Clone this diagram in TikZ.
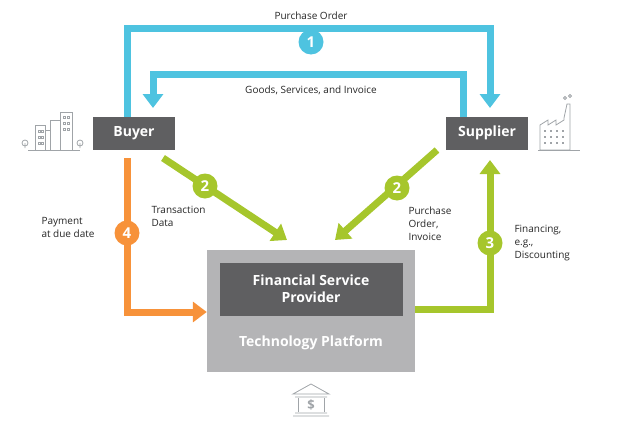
\documentclass[tikz,border=0pt]{standalone}
\usepackage{fontspec}
\setmainfont{Open Sans}
\usetikzlibrary{arrows.meta}
\definecolor{bl}{HTML}{4EC3E0}
\definecolor{gr}{HTML}{A6C62C}
\definecolor{org}{HTML}{F7923A}
\definecolor{dk}{HTML}{5F5F61}
\definecolor{lg}{HTML}{B4B4B6}
\definecolor{ic}{HTML}{A0A4A8}
\begin{document}
\begin{tikzpicture}[x=1pt,y=-1pt,
 box/.style={fill=dk,text=white,font=\bfseries\fontsize{14}{16}\selectfont,minimum width=82pt,minimum height=33pt,inner sep=0},
 arr/.style={line width=7pt,-{Triangle[length=14pt,width=20pt]}},
 num/.style={circle,fill=#1,text=white,font=\bfseries\fontsize{15}{15}\selectfont,minimum size=25pt,inner sep=0},
 lab/.style={font=\fontsize{10}{13}\selectfont,text=black!85,align=left},
 icon/.style={draw=ic,line width=0.8pt}]
\useasboundingbox (0,0) rectangle (624,434);
\node[box] (buyer) at (134,133) {Buyer};
\node[box] (supplier) at (487,133) {Supplier};
\node[fill=lg,minimum width=208pt,minimum height=122pt,inner sep=0] (plat) at (311,311) {};
\node[fill=dk,text=white,font=\bfseries\fontsize{14}{17}\selectfont,align=center,minimum width=183pt,minimum height=53pt,inner sep=0] (fsp) at (311,289) {Financial Service\\Provider};
\node[text=white,font=\bfseries\fontsize{14}{16}\selectfont] (tp) at (311,343) {Technology Platform};
% blue
\coordinate (b1) at (127,117); \coordinate (b2) at (490,108);
\draw[arr,bl] (b1) -- (127,28) -- (490,28) -- (b2);
\node[num=bl] (n1) at (311,42) {1};
\node[lab] (l1) at (311,16) {Purchase Order};
\coordinate (c1) at (463,117); \coordinate (c2) at (153,108);
\draw[arr,bl] (c1) -- (463,74) -- (153,74) -- (c2);
\node[lab] (l2) at (311,90) {Goods, Services, and Invoice};
% green
\coordinate (g1) at (163,158); \coordinate (g2) at (287,240);
\draw[arr,gr] (g1) -- (g2);
\node[num=gr] (n2a) at (205,186) {2};
\coordinate (h1) at (437,150); \coordinate (h2) at (335,240);
\draw[arr,gr] (h1) -- (h2);
\node[num=gr] (n2b) at (397,188) {2};
\node[lab,anchor=north west] (l3) at (148,203) {Transaction\\Data};
\node[lab,anchor=north west] (l4) at (405,203) {Purchase\\Order,\\Invoice};
\coordinate (k1) at (415,309);
\draw[arr,gr] (k1) -- (490,309) -- (490,160);
\node[num=gr] (n3) at (490,243) {3};
\node[lab,anchor=north west] (l5) at (511,222) {Financing,\\e.g.,\\Discounting};
% orange
\coordinate (o1) at (127,158);
\draw[arr,org] (o1) -- (127,312) -- (plat.west |- 0,312);
\node[num=org] (n4) at (127,233) {4};
\node[lab,anchor=north west] (l6) at (38,214) {Payment\\at due date};
% buildings icon
\draw[icon] (35,150) -- (35,125) -- (45,125) -- (45,150) (45,130)--(50,130)--(50,150)
 (50,150)--(50,120)--(60,120)--(60,150) (60,120)--(60,112)--(72,112)--(72,150) (28,150)--(80,150);
\draw[icon] (25,148) -- (25,143) circle (3pt);
\draw[icon] (80,148) -- (80,143) circle (3pt);
\foreach \x in {38,41} \foreach \y in {130,136,142} \draw[icon,line width=0.5pt] (\x,\y) rectangle +(2,2);
\foreach \x in {63,67} \foreach \y in {116,122,128} \draw[icon,line width=0.5pt] (\x,\y) rectangle +(2,2);
% factory icon
\draw[icon] (540,150) -- (540,125) -- (548,120) -- (548,125) -- (556,120) -- (556,125) -- (564,120) -- (564,118) -- (567,104) -- (570,104) -- (570,150) -- cycle;
\draw[icon] (565,98) circle (1.5pt) (570,96) circle (1.5pt);
\draw[icon] (538,150) -- (580,150);
\foreach \x in {544,550,556,562} \foreach \y in {130,136,142} \fill[ic] (\x,\y) rectangle +(1.5,1.5);
% bank icon
\draw[icon] (293,394) -- (311,384) -- (329,394) -- cycle (295,397) -- (327,397) (293,416) -- (329,416) (295,413)--(327,413);
\foreach \x in {298,324} \draw[icon] (\x,398) -- (\x,412);
\node[text=ic,font=\bfseries\fontsize{13}{13}\selectfont] (bk) at (311,405) {\$};
\end{tikzpicture}
\end{document}
